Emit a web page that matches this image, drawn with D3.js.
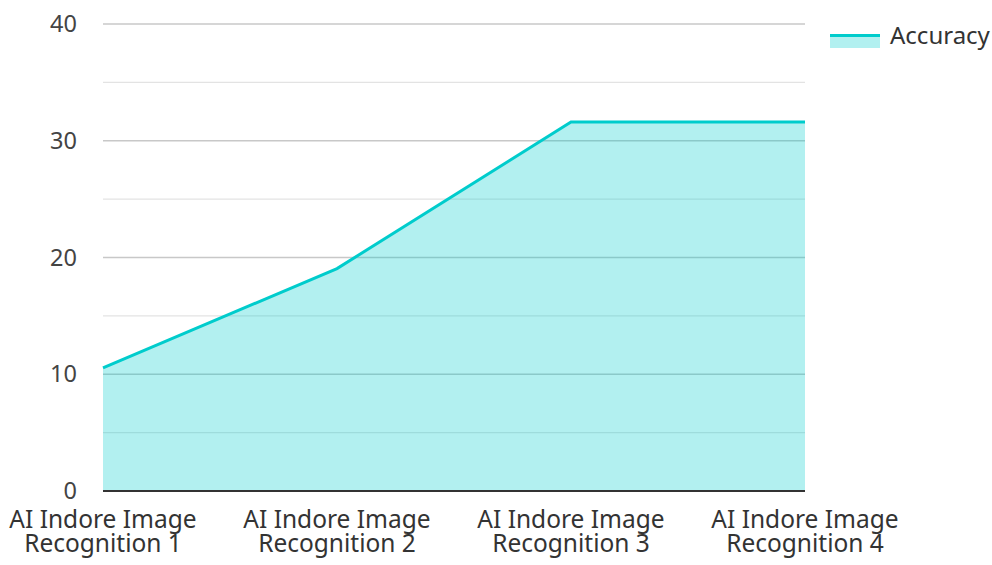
<!DOCTYPE html>
<html>
<head>
<meta charset="utf-8">
<script src="https://cdn.jsdelivr.net/npm/d3@7"></script>
<style>
html,body{margin:0;padding:0;background:#fff;}
svg{display:block;font-family:"Noto Sans","Open Sans",sans-serif;}
</style>
</head>
<body>
<svg id="chart" width="992" height="565"></svg>
<script>
const categories = ["AI Indore Image Recognition 1","AI Indore Image Recognition 2","AI Indore Image Recognition 3","AI Indore Image Recognition 4"];
const categoryLines = [["AI Indore Image","Recognition 1"],["AI Indore Image","Recognition 2"],["AI Indore Image","Recognition 3"],["AI Indore Image","Recognition 4"]];
const accuracy = [10.55, 19.05, 31.6, 31.6];
const majorTicks = [0, 10, 20, 30, 40];
const minorTicks = [5, 15, 25, 35];
const seriesName = "Accuracy";

const svg = d3.select("#chart");
const x = d3.scalePoint().domain(categories).range([103, 805]);
const y = d3.scaleLinear().domain([0, 40]).range([491, 24]);

// grid
svg.append("g").selectAll("line").data(minorTicks).join("line")
  .attr("x1", 103).attr("x2", 805)
  .attr("y1", d => y(d)).attr("y2", d => y(d))
  .attr("stroke", "#e3e3e3").attr("stroke-width", 1.3);
svg.append("g").selectAll("line").data(majorTicks.filter(d => d > 0)).join("line")
  .attr("x1", 103).attr("x2", 805)
  .attr("y1", d => y(d)).attr("y2", d => y(d))
  .attr("stroke", "#c8c8c8").attr("stroke-width", 1.3);

// y labels
svg.append("g").selectAll("text").data(majorTicks).join("text")
  .attr("x", 77).attr("y", d => y(d))
  .attr("dy", "0.35em")
  .attr("text-anchor", "end")
  .attr("font-size", 23.5)
  .attr("fill", "#444")
  .text(d => d);

// area
const data = categories.map((c, i) => ({c, v: accuracy[i]}));
svg.append("path").datum(data)
  .attr("d", d3.area().x(d => x(d.c)).y0(y(0)).y1(d => y(d.v)))
  .attr("fill", "rgba(0,204,204,0.3)");
svg.append("path").datum(data)
  .attr("d", d3.line().x(d => x(d.c)).y(d => y(d.v)))
  .attr("fill", "none").attr("stroke", "#00cccc").attr("stroke-width", 3);

// baseline
svg.append("line").attr("x1", 103).attr("x2", 805)
  .attr("y1", y(0)).attr("y2", y(0))
  .attr("stroke", "#333").attr("stroke-width", 2);

// x labels
const xl = svg.append("g").selectAll("text").data(categories).join("text")
  .attr("text-anchor", "middle")
  .attr("font-size", 24.5)
  .attr("fill", "#333");
xl.each(function(d, i) {
  const t = d3.select(this);
  categoryLines[i].forEach((ln, j) => {
    t.append("tspan").attr("x", x(d)).attr("y", 528 + j * 24).text(ln);
  });
});

// legend
const lg = svg.append("g");
lg.append("rect").attr("x", 830).attr("y", 34).attr("width", 50).attr("height", 14)
  .attr("fill", "rgba(0,204,204,0.3)");
lg.append("rect").attr("x", 830).attr("y", 34).attr("width", 50).attr("height", 3)
  .attr("fill", "#00cccc");
lg.append("text").attr("x", 890).attr("y", 43.5)
  .attr("font-size", 24).attr("fill", "#333").text(seriesName);
</script>
</body>
</html>
